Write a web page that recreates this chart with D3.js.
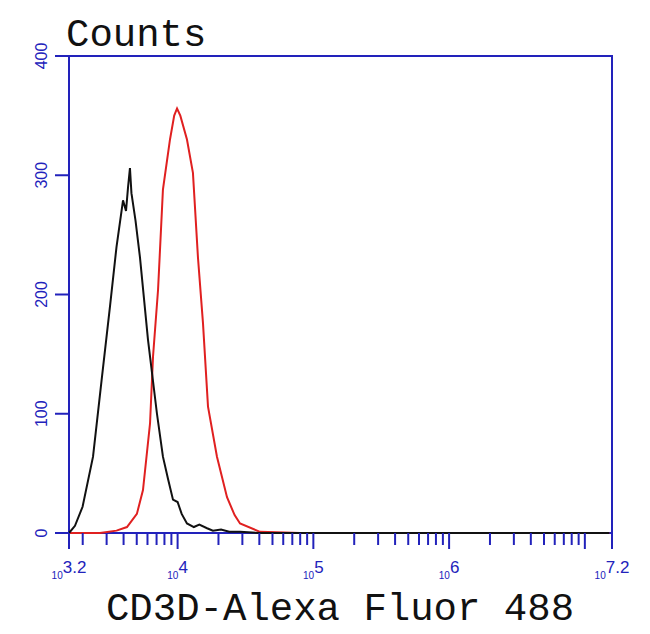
<!DOCTYPE html><html><head><script src="https://cdn.jsdelivr.net/npm/d3@7"></script>
<style>body{margin:0;background:#fff}</style></head><body><svg id="c" width="650" height="634"></svg>
<script>
const blackX=[3.2,3.244,3.30,3.377,3.44,3.502,3.55,3.598,3.62,3.635,3.649,3.66,3.69,3.723,3.782,3.848,3.892,3.93,3.966,4.0,4.03,4.069,4.12,4.16,4.217,4.26,4.32,4.38,4.46,4.6,4.9,5.5,6.5,7.18];
const blackY=[0,6,22,64,128,190,240,279,270,290,306,285,262,231,162,100,64,45,28,26,16,8,5,7,4,2,3,1,1,0,0,0,0,0];
const redX=[3.2,3.428,3.55,3.627,3.70,3.745,3.797,3.819,3.856,3.892,3.944,3.975,3.996,4.02,4.069,4.113,4.150,4.187,4.224,4.290,4.364,4.42,4.460,4.607,4.902,5.5,7.18];
const redY=[0,0,2,5,16,36,92,148,204,288,330,350,356,350,330,302,231,176,106,64,30,15,8,1,0,0,0];
const yTicks=[0,100,200,300,400];
const xLabels=[{v:3.2,e:"3.2"},{v:4,e:"4"},{v:5,e:"5"},{v:6,e:"6"},{v:7.2,e:"7.2"}];
const svg=d3.select("#c");
const L=69,R=612,T=56,B=533;
const x=d3.scaleLinear().domain([3.2,7.2]).range([L,R]);
const y=d3.scaleLinear().domain([0,400]).range([B,T]);
const blue="#2222bb";
svg.append("rect").attr("x",L).attr("y",T).attr("width",R-L).attr("height",B-T).attr("fill","none").attr("stroke",blue).attr("stroke-width",2);
const line=d3.line().x(d=>x(d[0])).y(d=>y(d[1]));
svg.append("path").attr("d",line(d3.zip(redX,redY))).attr("fill","none").attr("stroke","#e02020").attr("stroke-width",2);
svg.append("path").attr("d",line(d3.zip(blackX,blackY))).attr("fill","none").attr("stroke","#111").attr("stroke-width",2);
yTicks.forEach(t=>{
 svg.append("line").attr("x1",L-14).attr("x2",L).attr("y1",y(t)).attr("y2",y(t)).attr("stroke",blue).attr("stroke-width",2);
 svg.append("text").attr("transform",`translate(${L-22},${y(t)}) rotate(-90)`).attr("text-anchor","middle").attr("fill",blue).attr("font-family","Liberation Sans, Arial").attr("font-size",16).text(t);
});
const minors=[];
for(let n=3;n<=7;n++)for(let k=2;k<=9;k++){const v=n+Math.log10(k);if(v>3.2&&v<7.2)minors.push(v);}
minors.forEach(v=>svg.append("line").attr("x1",x(v)).attr("x2",x(v)).attr("y1",B).attr("y2",B+12).attr("stroke",blue).attr("stroke-width",2));
[3.2,4,5,6,7,7.2].forEach(v=>svg.append("line").attr("x1",x(v)).attr("x2",x(v)).attr("y1",B).attr("y2",B+16).attr("stroke",blue).attr("stroke-width",2));
xLabels.forEach(d=>{
 const t=svg.append("text").attr("x",x(d.v)).attr("y",576).attr("text-anchor","middle").attr("fill",blue).attr("font-family","Liberation Sans, Arial");
 t.append("tspan").attr("font-size",10).attr("dy",3).text("10");
 t.append("tspan").attr("font-size",17).attr("dy",-6).text(d.e);
});
svg.append("text").attr("x",66).attr("y",46).attr("font-family","Liberation Mono, Courier New, monospace").attr("font-size",39).attr("fill","#111").text("Counts");
svg.append("text").attr("x",340).attr("y",620).attr("text-anchor","middle").attr("font-family","Liberation Mono, Courier New, monospace").attr("font-size",39).attr("fill","#111").text("CD3D-Alexa Fluor 488");
</script></body></html>
